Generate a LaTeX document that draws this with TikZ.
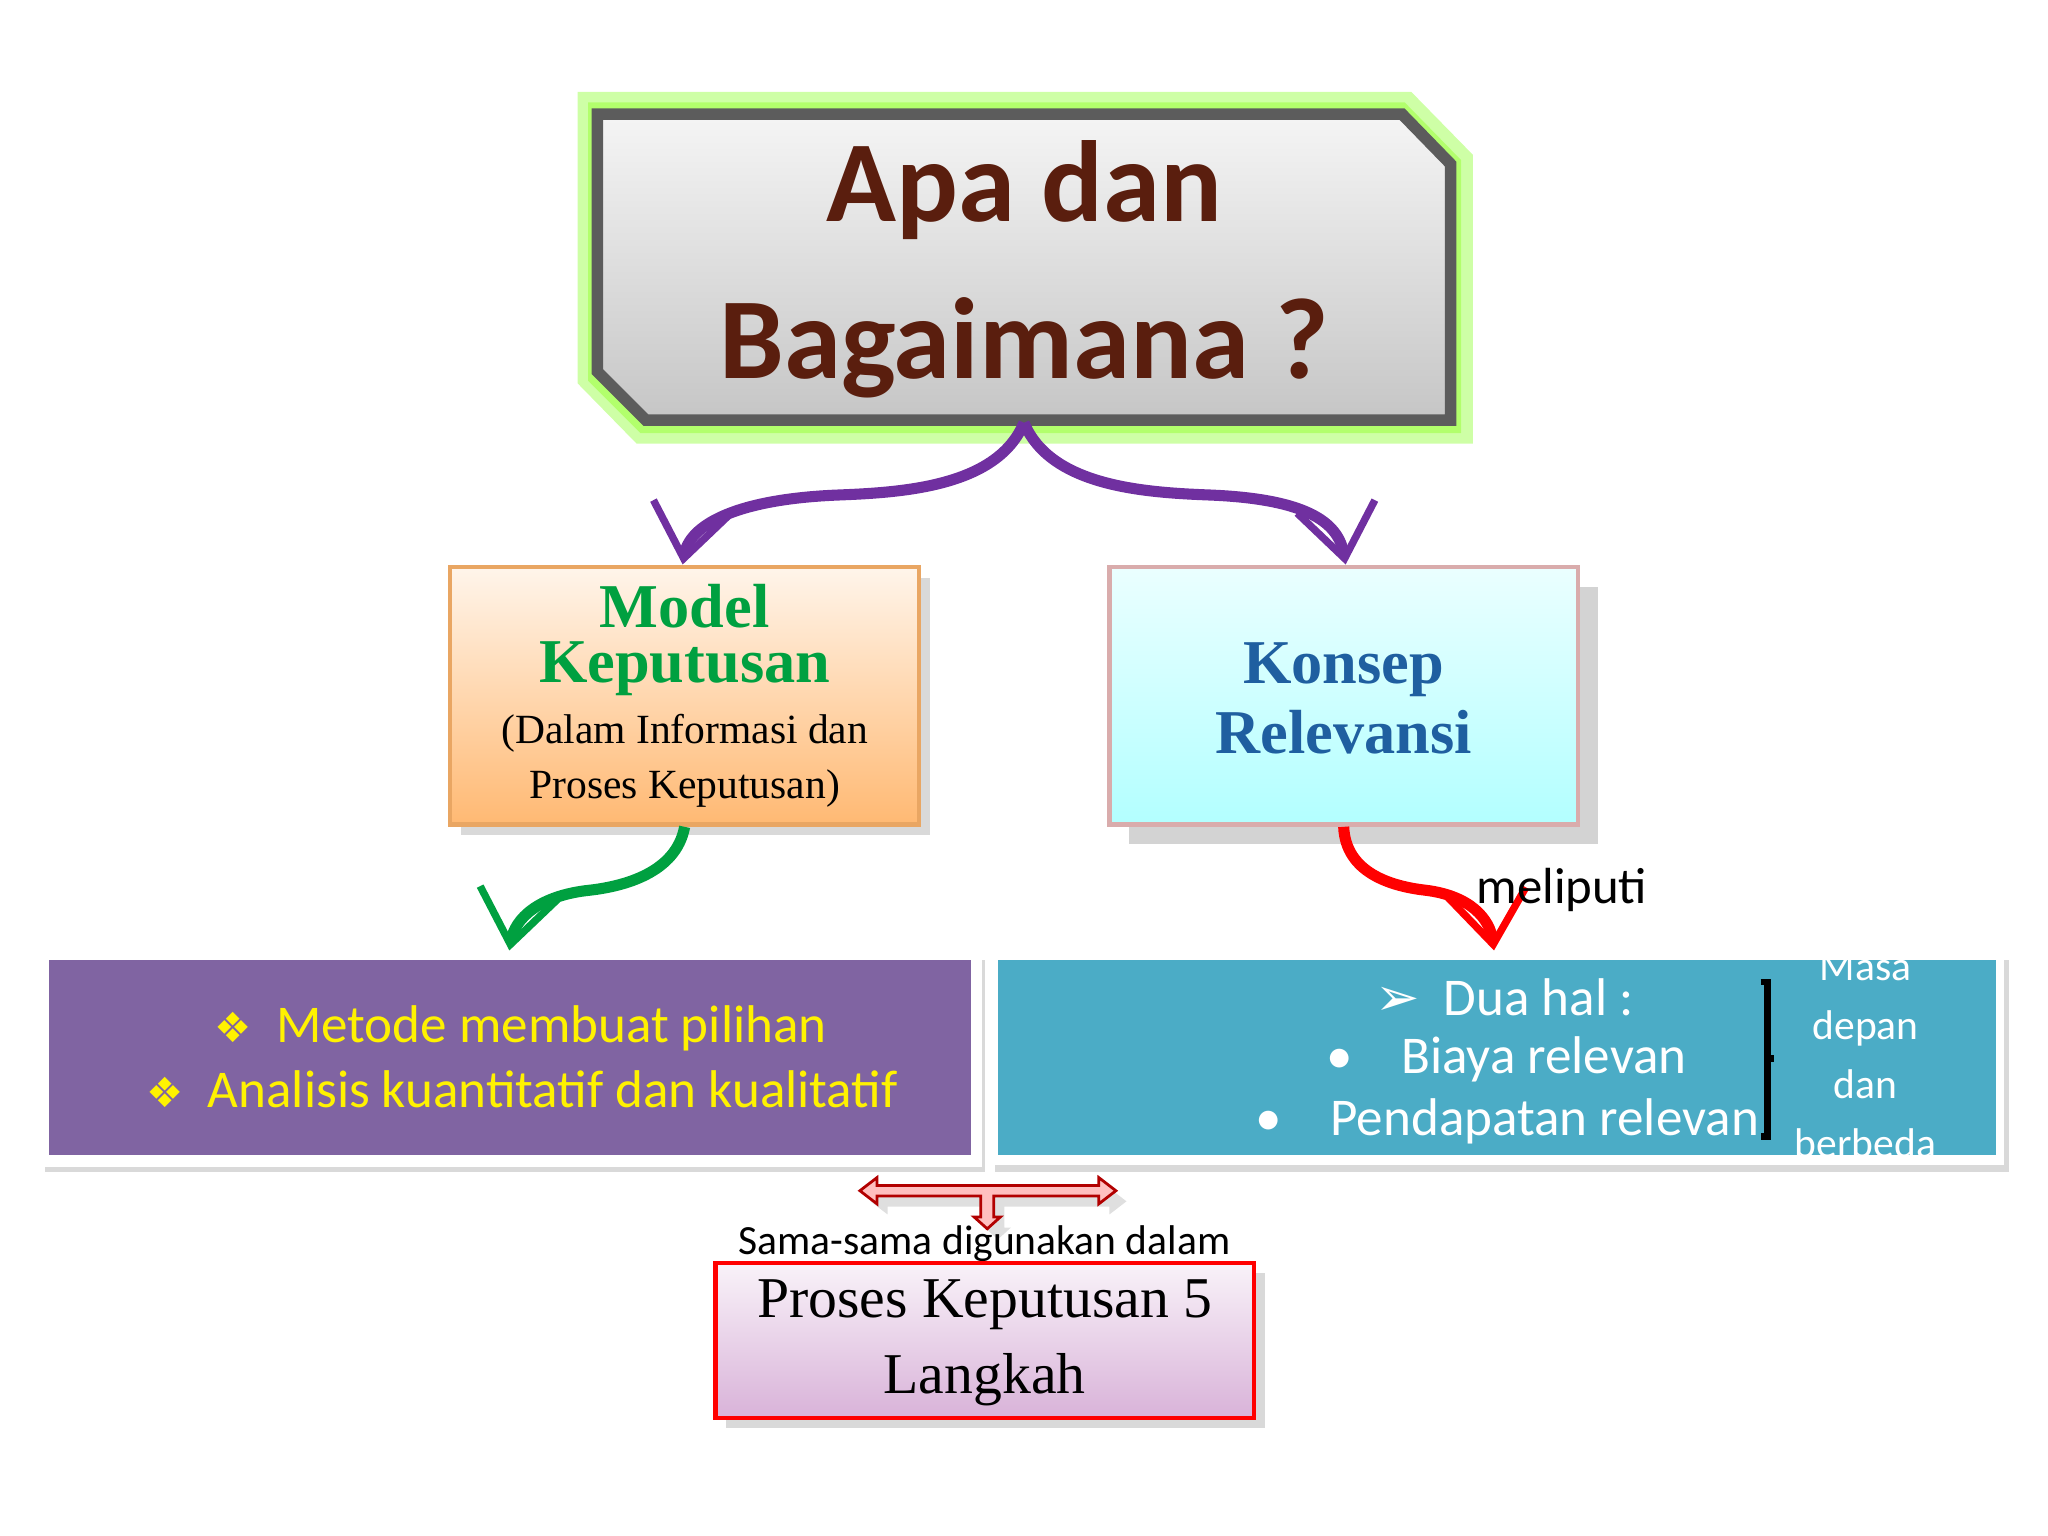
\documentclass[tikz,border=0pt]{standalone}
\usepackage{fontspec}
\setmainfont{Liberation Serif}
\newfontfamily\calfont{Carlito}
\newfontfamily\dvs{DejaVu Sans}
\usetikzlibrary{arrows.meta,shadows,calc}
\definecolor{brn}{HTML}{5A1E0E}
\definecolor{grn}{HTML}{00A040}
\definecolor{blu}{HTML}{1F5FA0}
\definecolor{pur}{HTML}{8064A2}
\definecolor{tea}{HTML}{4BACC6}
\definecolor{vio}{HTML}{7030A0}
\newcommand\mkhead[1]{{\color{grn}\bfseries\fontsize{13.5}{15}\selectfont #1}}
\newcommand\mksub[1]{{\fontsize{9}{10.5}\selectfont #1}}
\tikzset{
 P/.style={x=0.01cm,y=-0.01cm},
 vhead/.style={-{Straight Barb[length=4mm,width=6mm,line width=1.6pt]}},
 conn/.style={line width=2.4pt,vhead},
 tx/.style={inner sep=0pt,align=center}
}
\begin{document}
\begin{tikzpicture}[P]
\useasboundingbox (0,0) rectangle (1560,1170);
% top box glow
\fill[green!55!yellow,opacity=0.35] (440,70)--(1075,70)--(1122,118)--(1122,338)--(485,338)--(440,292)--cycle;
\fill[green!50!yellow,opacity=0.35] (448,78)--(1070,78)--(1113,122)--(1113,330)--(488,330)--(448,290)--cycle;
\draw[line width=2.5pt,draw=gray!40!black!80,top color=gray!8,bottom color=gray!45]
 (455,87)--(1068,87)--(1105,125)--(1105,320)--(492,320)--(455,283)--cycle;
\node[tx,font=\calfont\bfseries\fontsize{25}{34}\selectfont,text=brn] (top) at (780,205) {Apa dan\\Bagaimana ?};
\coordinate (tb) at (780,322);
% middle boxes
\node[draw=orange!50!brown!70,line width=1pt,top color=orange!8,bottom color=orange!55,minimum width=3.57cm,minimum height=1.96cm,drop shadow={opacity=0.3}] (mk) at (521.5,530) {};
\node[tx] (mkt) at (521.5,530) {\mkhead{Model}\\\mkhead{Keputusan}\\[1pt]\mksub{(Dalam Informasi dan}\\\mksub{Proses Keputusan)}};
\node[draw=pink!70!gray,line width=1pt,top color=cyan!8,bottom color=cyan!30,minimum width=3.57cm,minimum height=1.96cm,drop shadow={opacity=0.35,shadow xshift=0.15cm,shadow yshift=-0.15cm}] (kr) at (1023.5,530) {};
\node[tx,text=blu,font=\bfseries\fontsize{13.5}{15}\selectfont] (krt) at (1023.5,532) {Konsep\\Relevansi};
% connectors top
\draw[conn,vio] (tb) .. controls (760,370) and (690,375) .. (640,377) .. controls (560,380) and (525,400) .. (520,430);
\draw[conn,vio] (tb) .. controls (800,370) and (870,375) .. (920,377) .. controls (1000,380) and (1020,400) .. (1025,430);
% bottom boxes
\fill[gray!30] (34,731) rectangle (750,893);
\fill[gray!30] (758,731) rectangle (1530,893);
\draw[white,line width=1pt,fill=white] (30,725) rectangle (746,887);
\draw[white,fill=white] (754,725) rectangle (1526,887);
\fill[pur] (37,731) rectangle (740,880);
\fill[tea] (760,731) rectangle (1520,880);
\coordinate (pb) at (388,724);
\coordinate (bb) at (1138,724);
\node[tx,anchor=west,text=yellow,font=\calfont\fontsize{11.5}{14}\selectfont] (l1) at (163,783) {{\dvs\small\char"2756}\ \ Metode membuat pilihan};
\node[tx,anchor=west,text=yellow,font=\calfont\fontsize{11.5}{14}\selectfont] (l2) at (111,830) {{\dvs\small\char"2756}\ \ Analisis kuantitatif dan kualitatif};
\node[tx,anchor=west,text=white,font=\calfont\fontsize{11.5}{14}\selectfont] (r1) at (1047,760) {{\dvs\char"27A2}\ \ Dua hal :};
\node[tx,anchor=west,text=white,font=\calfont\fontsize{11.5}{14}\selectfont] (r2) at (1010,807) {\textbullet\ \ \ \ Biaya relevan};
\node[tx,anchor=west,text=white,font=\calfont\fontsize{11.5}{14}\selectfont] (r3) at (956,854) {\textbullet\ \ \ \ Pendapatan relevan};
\draw[black,line width=1.5pt] (1341,748)--(1346,748)--(1346,866)--(1341,866) (1346,806)--(1351,806);
\node[tx,text=white,font=\calfont\fontsize{9}{12.8}\selectfont] (md) at (1421,804) {Masa\\depan\\dan\\berbeda};
% green / red connectors
\draw[conn,grn] (mk.south) .. controls (515,665) and (475,675) .. (450,678) .. controls (410,682) and (392,700) .. (pb);
\draw[conn,red] (kr.south) .. controls (1025,665) and (1060,675) .. (1085,678) .. controls (1120,682) and (1135,700) .. (bb);
\node[tx,anchor=west,font=\calfont\fontsize{11}{13}\selectfont] (mel) at (1124,678) {meliputi};
% pink arrows
\draw[red!70!black,line width=0.6pt,fill=red!25,drop shadow={opacity=0.25}]
 (655,907)--(668,897)--(668,903)--(837,903)--(837,897)--(850,907)--(837,917)--(837,911)--(757,911)--(757,927)--(762,927)--(752,936)--(742,927)--(747,927)--(747,911)--(668,911)--(668,917)--cycle;
\node[tx,font=\calfont\fontsize{9}{11}\selectfont] (sama) at (750,947) {Sama-sama digunakan dalam};
\node[draw=red,line width=1pt,top color=violet!5,bottom color=violet!30,minimum width=4.1cm,minimum height=1.18cm,drop shadow={opacity=0.3}] (pk) at (750,1021) {};
\node[tx,font=\fontsize{12.5}{16.5}\selectfont] (pkt) at (750,1023) {Proses Keputusan 5\\Langkah};
\end{tikzpicture}
\end{document}
